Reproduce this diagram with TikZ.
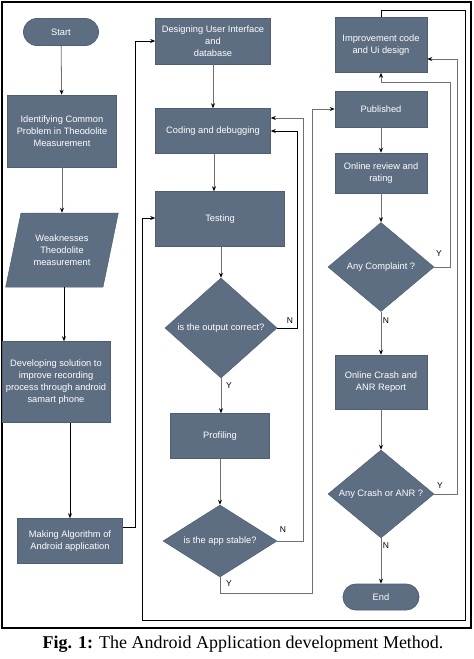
\documentclass[tikz,border=0pt]{standalone}
\usepackage{fontspec}
\setmainfont{Liberation Sans}
\newfontfamily\capfont{Liberation Serif}
\usetikzlibrary{shapes.geometric,shapes.misc,arrows.meta}
\definecolor{boxfill}{HTML}{5E6E82}
\definecolor{boxline}{HTML}{4F5E72}
\definecolor{conn}{HTML}{707070}
\tikzset{
  x=1pt, y=-1pt,
  every node/.style={font=\fontsize{9.3}{12}\selectfont, text=white, align=center, inner sep=1pt},
  procbox/.style={rectangle, fill=boxfill, draw=boxline, line width=0.5pt},
  termbox/.style={rounded rectangle, fill=boxfill, draw=boxline, line width=0.8pt},
  decbox/.style={diamond, fill=boxfill, draw=boxline, line width=0.5pt},
  iobox/.style={trapezium, trapezium left angle=65, trapezium right angle=115, fill=boxfill, draw=boxline, line width=0.5pt},
  flow/.style={draw=conn, line width=0.8pt, -{Stealth[length=5pt,width=4pt,black]}},
  flowb/.style={draw=black, line width=0.8pt, -{Stealth[length=5pt,width=4pt,black]}},
  lbl/.style={text=black, font=\fontsize{8.5}{10}\selectfont, inner sep=0pt},
}
\begin{document}
\begin{tikzpicture}
\useasboundingbox (0,0) rectangle (474,659);
% outer frame
\draw[black, line width=2pt] (1.5,1.5) rectangle (470.5,627.5);
% left column
\node[termbox, minimum width=77pt, minimum height=27pt] (start) at (61,32) {Start};
\node[procbox, minimum width=109pt, minimum height=72pt] (ident) at (62,131) {Identifying Common\\Problem in Theodolite\\Measurement};
\node[iobox, minimum width=80pt, minimum height=74pt, trapezium stretches=true, text width=80pt] (weak) at (62,250) {Weaknesses\\Theodolite\\measurement};
\node[procbox, minimum width=108pt, minimum height=81pt] (dev) at (56,382) {Developing solution to\\improve recording\\process through android\\samart phone};
\node[procbox, minimum width=105pt, minimum height=45pt] (mak) at (70,541) {Making Algorithm of\\Android application};
% middle column
\node[procbox, minimum width=115pt, minimum height=46pt] (des) at (213,41) {Designing User Interface\\and\\database};
\node[procbox, minimum width=115pt, minimum height=45pt] (cod) at (213,131) {Coding and debugging};
\node[procbox, minimum width=129pt, minimum height=55pt] (tes) at (220,219) {Testing};
\node[decbox, minimum width=112pt, minimum height=100pt, inner sep=0pt] (out) at (221,328) {};
\node at (out) {is the output correct?};
\node[procbox, minimum width=99pt, minimum height=45pt] (pro) at (220,436) {Profiling};
\node[decbox, minimum width=114pt, minimum height=72pt, inner sep=0pt] (sta) at (220,541) {};
\node at (sta) {is the app stable?};
% right column
\node[procbox, minimum width=92pt, minimum height=55pt] (imp) at (381,45) {Improvement code\\and Ui design};
\node[procbox, minimum width=92pt, minimum height=36pt] (pub) at (381,109) {Published};
\node[procbox, minimum width=92pt, minimum height=40pt] (rev) at (381,173) {Online review and\\rating};
\node[decbox, minimum width=106pt, minimum height=89pt, inner sep=0pt] (com) at (381,267) {};
\node at (com) {Any Complaint ?};
\node[procbox, minimum width=92pt, minimum height=54pt] (cra) at (381,382) {Online Crash and\\ANR Report};
\node[decbox, minimum width=106pt, minimum height=88pt, inner sep=0pt] (anr) at (381,494) {};
\node at (anr) {Any Crash or ANR ?};
\node[termbox, minimum width=78pt, minimum height=26pt] (end) at (381,597) {End};
% coordinates for bends
\coordinate (c1) at (135,527);
\coordinate (c2) at (297,328);
\coordinate (c3) at (303,541);
\coordinate (c4) at (220,593);
\coordinate (c5) at (312,593);
\coordinate (c6) at (450,267);
\coordinate (c7) at (381,82);
\coordinate (c8) at (457,494);
\coordinate (c9) at (381,10);
\coordinate (c10) at (465,10);
\coordinate (c11) at (465,620);
\coordinate (c12) at (142,620);
% left column flows
\draw[flow] (start) -- (ident);
\draw[flow] (ident) -- (weak);
\draw[flowb] (weak.south -| 64,0) -- (dev.north -| 64,0);
\draw[flowb] (dev.south -| mak.north) -- (mak.north);
\draw[flowb] (mak.east |- c1) -- (c1) |- (des.west);
% middle column flows
\draw[flow] (des) -- (cod);
\draw[flow] (cod.south -| 214,0) -- (tes.north -| 214,0);
\draw[flow] (tes.south -| out.north) -- (out.north);
\draw[flowb] (out.east) -- (c2) |- (cod.east |- 0,131);
\node[lbl] at (290,321) {N};
\draw[flow] (out.south) -- (pro.north -| out.south);
\node[lbl] at (229,386) {Y};
\draw[flow] (pro.south -| sta.north) -- (sta.north);
\draw[flow] (sta.east) -- (c3) |- (cod.east |- 0,118);
\node[lbl] at (283,530) {N};
\draw[flow] (sta.south) -- (c4) -- (c5) |- (pub.west);
\node[lbl] at (229,584) {Y};
% right column flows
\draw[flow] (pub) -- (rev);
\draw[flow] (rev) -- (com);
\draw[flow] (com) -- (cra);
\node[lbl] at (386,321) {N};
\draw[flow] (cra) -- (anr);
\draw[flow] (anr) -- (end);
\node[lbl] at (386,546) {N};
\draw[flow] (com.east) -- (c6) |- (c7) -- (imp.south);
\node[lbl] at (439,254) {Y};
\draw[flow] (anr.east) -- (c8) |- (imp.east |- 0,59);
\node[lbl] at (440,486) {Y};
\draw[flowb] (imp.north) -- (c9) -- (c10) -- (c11) -- (c12) |- (tes.west |- 0,218);
% caption
\node[text=black, font=\capfont\fontsize{18}{20}\selectfont, anchor=base] at (243,648) {\textbf{Fig. 1:} The Android Application development Method.};
\end{tikzpicture}
\end{document}
